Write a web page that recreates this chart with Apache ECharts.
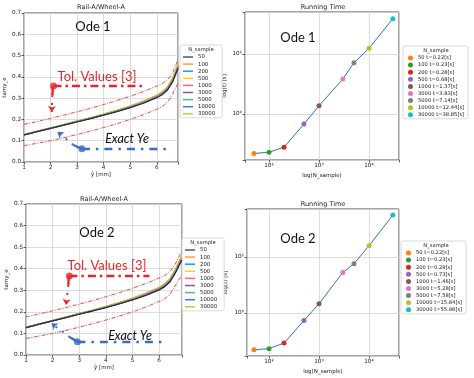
<!DOCTYPE html>
<html><head><meta charset="utf-8">
<script src="https://cdn.jsdelivr.net/npm/echarts@6/dist/echarts.min.js"></script>
<style>html,body{margin:0;padding:0;background:#fff}#c{width:474px;height:378px}</style>
</head><body><div id="c"></div>
<script>
// ---------- data ----------
const sampleNames = ['50','100','200','500','1000','3000','5000','10000','30000'];
const sampleN = [50,100,200,500,1000,3000,5000,10000,30000];
const timeOde1 = [0.22,0.23,0.28,0.68,1.37,3.83,7.14,12.44,38.85];
const timeOde2 = [0.22,0.23,0.29,0.73,1.46,5.28,7.58,15.84,55.98];

const yhatTop    = [1,1.5,2,2.5,3,3.5,4,4.5,5,5.5,6,6.2,6.4,6.6,6.8];
const yhatBottom = [1,1.5,2,2.5,3,3.5,4,4.5,5,5.5,6,6.2,6.4,6.6,6.85];

const exactYe  = [0.127,0.143,0.158,0.173,0.189,0.204,0.220,0.237,0.255,0.276,0.302,0.316,0.338,0.378,0.440];
const tolUpper = [0.177,0.190,0.205,0.220,0.236,0.252,0.270,0.289,0.309,0.331,0.357,0.368,0.385,0.420,0.480];
const tolLower = [0.077,0.088,0.100,0.114,0.129,0.145,0.162,0.180,0.200,0.222,0.248,0.260,0.280,0.320,0.370];

const curve50    = [0.128,0.144,0.159,0.174,0.190,0.205,0.221,0.239,0.257,0.279,0.305,0.320,0.342,0.382,0.445];
const curve100   = [0.129,0.145,0.160,0.176,0.192,0.207,0.224,0.242,0.262,0.285,0.312,0.327,0.350,0.392,0.458];
const curve200   = [0.128,0.144,0.160,0.175,0.191,0.206,0.223,0.241,0.260,0.283,0.309,0.324,0.347,0.388,0.452];
const curve500   = [0.127,0.143,0.159,0.174,0.190,0.205,0.222,0.240,0.258,0.280,0.306,0.321,0.343,0.384,0.447];
const curve1000  = [0.128,0.144,0.159,0.175,0.191,0.206,0.222,0.240,0.259,0.281,0.307,0.322,0.345,0.386,0.450];
const curve3000  = [0.127,0.143,0.158,0.174,0.190,0.205,0.221,0.238,0.256,0.278,0.304,0.318,0.340,0.380,0.442];
const curve5000  = [0.128,0.144,0.160,0.176,0.192,0.207,0.224,0.242,0.261,0.284,0.310,0.325,0.348,0.390,0.455];
const curve10000 = [0.127,0.143,0.159,0.174,0.190,0.205,0.222,0.239,0.257,0.279,0.305,0.319,0.341,0.381,0.444];
const curve30000 = [0.129,0.145,0.161,0.177,0.193,0.209,0.226,0.244,0.264,0.287,0.314,0.330,0.353,0.396,0.462];
const curveList = [curve50,curve100,curve200,curve500,curve1000,curve3000,curve5000,curve10000,curve30000];

// annotation arrows (data coordinates of the left plots)
const tolArrowTopH   = [[2.11,0.357],[5.49,0.357]];
const tolArrowTopV   = [[2.09,0.357],[2.07,0.315]];
const tolArrowTopDot = [[2.07,0.315],[2.04,0.235]];
const exArrowTopH    = [[3.18,0.060],[6.50,0.060]];
const exArrowTopV    = [[3.18,0.062],[2.86,0.080]];
const exArrowTopDot  = [[2.86,0.080],[2.26,0.142]];

const tolArrowBotH   = [[2.63,0.366],[5.64,0.366]];
const tolArrowBotV   = [[2.61,0.366],[2.59,0.325]];
const tolArrowBotDot = [[2.59,0.325],[2.50,0.232]];
const exArrowBotH    = [[2.93,0.060],[6.23,0.060]];
const exArrowBotV    = [[2.93,0.062],[2.65,0.082]];
const exArrowBotDot  = [[2.65,0.082],[1.95,0.147]];

const tab10 = ['#1f77b4','#ff7f0e','#2ca02c','#d62728','#9467bd','#8c564b','#e377c2','#7f7f7f','#bcbd22','#17becf'];

// ---------- helpers ----------
const sup = {'-1':'⁻¹','0':'⁰','1':'¹','2':'²','3':'³','4':'⁴'};
function pow10Label(v){
  const e = Math.log10(v), r = Math.round(e);
  if (Math.abs(e - r) > 1e-6) return '';
  return '10' + sup[String(r)];
}
const FONT = 'DejaVu Sans';
const tickLbl = {fontFamily: FONT, fontSize: 5.7, color: '#222'};
const gridLine = {show: true, lineStyle: {color: '#d4d4d4', width: 0.8}};
const axTick = {show: true, length: 2.5, lineStyle: {color: '#222', width: 0.7}};

function leftX(idx, max){
  return {type:'value', gridIndex: idx, min: 1, max: max, interval: 1,
    axisLine:{show:false}, axisTick: axTick, splitLine: gridLine,
    axisLabel: Object.assign({margin: 3, formatter: v => Number.isInteger(v) ? String(v) : ''}, tickLbl),
    name: 'ŷ [mm]', nameLocation: 'middle', nameGap: 10,
    nameTextStyle: {fontFamily: FONT, fontSize: 5.5, color:'#222'}};
}
function leftY(idx){
  return {type:'value', gridIndex: idx, min: 0, max: 0.7, interval: 0.1,
    axisLine:{show:false}, axisTick: axTick, splitLine: gridLine,
    axisLabel: Object.assign({margin: 3, formatter: v => v.toFixed(1)}, tickLbl),
    name: 'tamy_e', nameLocation: 'middle', nameGap: 14, nameRotate: 90,
    nameTextStyle: {fontFamily: FONT, fontSize: 5.5, color:'#222'}};
}
function logX(idx, min, max){
  return {type:'log', logBase: 10, gridIndex: idx, min: min, max: max,
    axisLine:{show:false}, axisTick: axTick, splitLine: gridLine,
    axisLabel: Object.assign({margin: 3, formatter: pow10Label}, tickLbl),
    name: 'log(N_sample)', nameLocation: 'middle', nameGap: 13,
    nameTextStyle: {fontFamily: FONT, fontSize: 5.5, color:'#222'}};
}
function logY(idx, min, max, gap){
  return {type:'log', logBase: 10, gridIndex: idx, min: min, max: max,
    axisLine:{show:false}, axisTick: axTick, splitLine: gridLine,
    axisLabel: Object.assign({margin: 3, formatter: pow10Label}, tickLbl),
    name: 'log(t) [s]', nameLocation: 'middle', nameGap: gap, nameRotate: 90,
    nameTextStyle: {fontFamily: FONT, fontSize: 5.5, color:'#222'}};
}

const series = [];
function addLeftPlot(idx, xs){
  const zip = ys => xs.map((x,i) => [x, ys[i]]);
  [tolUpper, tolLower].forEach(arr => series.push({
    type:'line', xAxisIndex: idx, yAxisIndex: idx, data: zip(arr), symbol:'none',
    lineStyle:{color:'#e2343c', width: 0.9, type:[4,1.5,1,1.5]}, z: 2, silent: true
  }));
  sampleNames.forEach((nm, i) => series.push({
    name: nm, type:'line', xAxisIndex: idx, yAxisIndex: idx, data: zip(curveList[i]),
    symbol:'none', lineStyle:{color: tab10[i], width: 1.1}, z: 3
  }));
  series.push({type:'line', xAxisIndex: idx, yAxisIndex: idx, data: zip(exactYe), symbol:'none',
    lineStyle:{color:'#1b2b6b', width: 1.3}, z: 4});
}
function addArrows(idx, tolH, tolV, tolDot, exH, exV, exDot){
  const red = '#e8252b', blue = '#3c6dc0';
  const L = (coords, color, width, type, arrow) => series.push({
    type:'lines', coordinateSystem:'cartesian2d', xAxisIndex: idx, yAxisIndex: idx,
    data:[{coords: coords}], symbol: arrow ? ['none','arrow'] : ['none','none'], symbolSize: 6,
    lineStyle:{color: color, width: width, type: type, opacity: 1, cap:'butt'}, z: 6, silent: true
  });
  L(tolH, red, 2.4, [8,4,2.5,4], false);
  L(tolV, red, 2.4, 'solid', false);
  L(tolDot, red, 2.0, [2,6], true);
  L(exH, blue, 2.4, [8,6,2.5,6], false);
  L(exV, blue, 2.4, 'solid', false);
  L(exDot, blue, 2.0, [2,6], true);
  series.push({type:'scatter', xAxisIndex: idx, yAxisIndex: idx, symbolSize: 7, z: 7, silent: true,
    data:[{value: tolH[0], itemStyle:{color: red}}, {value: exV[0], itemStyle:{color: blue}}]});
}
function addRightPlot(idx, times){
  series.push({type:'line', xAxisIndex: idx, yAxisIndex: idx, symbol:'none',
    data: sampleN.map((n,i)=>[n, times[i]]), lineStyle:{color:'#2a78b0', width: 1}, z: 3});
  sampleN.forEach((n,i) => series.push({
    name: n + ' t=' + times[i].toFixed(2) + '[s]', type:'scatter', xAxisIndex: idx, yAxisIndex: idx,
    data:[[n, times[i]]], symbolSize: 5, itemStyle:{color: tab10[i+1], opacity: 1}, z: 4
  }));
}

addLeftPlot(0, yhatTop);
addArrows(0, tolArrowTopH, tolArrowTopV, tolArrowTopDot, exArrowTopH, exArrowTopV, exArrowTopDot);
addRightPlot(1, timeOde1);
addLeftPlot(2, yhatBottom);
addArrows(2, tolArrowBotH, tolArrowBotV, tolArrowBotDot, exArrowBotH, exArrowBotV, exArrowBotDot);
addRightPlot(3, timeOde2);

const gridBase = {show: true, borderColor: '#222', borderWidth: 0.8, backgroundColor: 'transparent'};
function legendLeft(left, top){
  return {orient:'vertical', left: left, top: top, data: sampleNames,
    icon: 'path://M0,0L20,0L20,3L0,3Z',
    padding:[9.5,7,1.5,3], itemWidth: 10, itemHeight: 7, itemGap: 2.1,
    textStyle:{fontFamily: FONT, fontSize: 5.4, color:'#222'},
    borderColor:'#cfcfcf', borderWidth: 0.8, borderRadius: 2, backgroundColor:'#fff',
    selectedMode: false};
}
function legendRight(left, top, times){
  return {orient:'vertical', left: left, top: top,
    data: sampleN.map((n,i)=> n + ' t=' + times[i].toFixed(2) + '[s]'),
    padding:[9.5,4,1.5,5], itemWidth: 5, itemHeight: 7, itemGap: 2.1, icon:'circle',
    textStyle:{fontFamily: FONT, fontSize: 5.2, color:'#222'},
    borderColor:'#cfcfcf', borderWidth: 0.8, borderRadius: 2, backgroundColor:'#fff',
    selectedMode: false};
}
const txt = (x, y, s, style) => ({type:'text', x: x, y: y, z: 100, silent: true,
  style: Object.assign({text: s, align:'center', verticalAlign:'middle', fill:'#111'}, style)});
const ann = {fontFamily:'Lato', fontSize: 13};

const option = {
  animation: false,
  backgroundColor: '#fff',
  grid: [
    Object.assign({left: 24, top: 13, width: 154, height: 149}, gridBase),
    Object.assign({left: 245, top: 12, width: 154, height: 148}, gridBase),
    Object.assign({left: 26, top: 204, width: 156, height: 151}, gridBase),
    Object.assign({left: 247, top: 209, width: 152, height: 147}, gridBase)
  ],
  xAxis: [leftX(0, 6.8), logX(1, 33.1, 39800), leftX(2, 6.86), logX(3, 36.3, 39800)],
  yAxis: [leftY(0), logY(1, 0.171, 50.1, 17), leftY(2), logY(3, 0.17, 72, 18)],
  legend: [legendLeft(180, 45), legendRight(403, 46, timeOde1), legendLeft(182, 238), legendRight(401, 241, timeOde2)],
  series: series,
  graphic: [
    txt(101, 7, 'Rail-A/Wheel-A', {fontFamily: FONT, fontSize: 6.5, fill:'#222'}),
    txt(323, 7, 'Running Time', {fontFamily: FONT, fontSize: 6.5, fill:'#222'}),
    txt(104, 199, 'Rail-A/Wheel-A', {fontFamily: FONT, fontSize: 6.5, fill:'#222'}),
    txt(323, 204, 'Running Time', {fontFamily: FONT, fontSize: 6.5, fill:'#222'}),
    txt(201, 50, 'N_sample', {fontFamily: FONT, fontSize: 5.2, fill:'#222'}),
    txt(436, 51, 'N_sample', {fontFamily: FONT, fontSize: 5.2, fill:'#222'}),
    txt(203, 243, 'N_sample', {fontFamily: FONT, fontSize: 5.2, fill:'#222'}),
    txt(436, 246, 'N_sample', {fontFamily: FONT, fontSize: 5.2, fill:'#222'}),
    txt(93, 27, 'Ode 1', ann),
    txt(298, 38, 'Ode 1', ann),
    txt(97, 233, 'Ode 2', ann),
    txt(298, 239, 'Ode 2', ann),
    txt(97, 77, 'Tol. Values [3]', Object.assign({}, ann, {fill:'#e8252b'})),
    txt(107, 266, 'Tol. Values [3]', Object.assign({}, ann, {fill:'#e8252b'})),
    txt(127, 139, 'Exact Ye', {fontFamily:'Lato', fontSize: 12.5, fontStyle:'italic'}),
    txt(130, 336, 'Exact Ye', {fontFamily:'Lato', fontSize: 12.5, fontStyle:'italic'})
  ]
};
const chart = echarts.init(document.getElementById('c'), null, {renderer:'canvas'});
chart.setOption(option);
</script>
</body></html>
